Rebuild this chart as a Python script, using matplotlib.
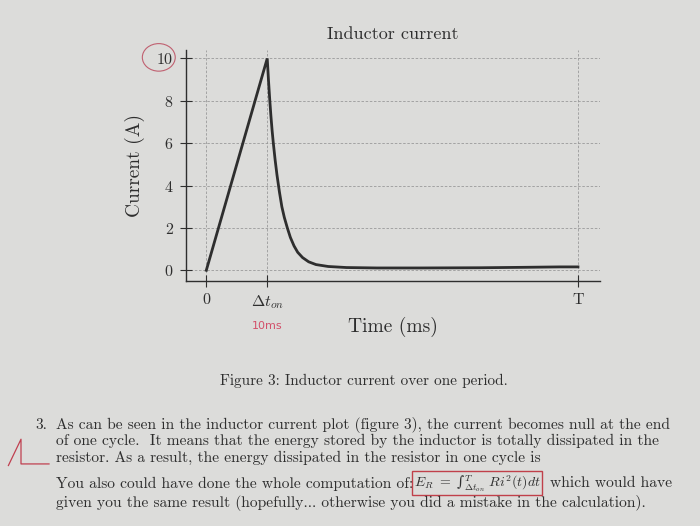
import numpy as np
import matplotlib.pyplot as plt
from matplotlib.patches import Ellipse

plt.rcParams['font.family'] = ['cmr10', 'DejaVu Serif']
plt.rcParams['mathtext.fontset'] = 'cm'
plt.rcParams['axes.formatter.use_mathtext'] = True

# inductor current (time in ms, current in A)
t_ms = [0, 10, 10.2, 10.4, 10.6, 10.8, 11.0, 11.3, 11.6, 12.0, 12.4, 12.8, 13.3,
        13.8, 14.4, 15.0, 15.8, 16.8, 18.0, 20.0, 23.0, 28.0, 35.0, 45.0, 52.0, 58.0, 61.0]
current = [0, 10, 9.0, 8.1, 7.3, 6.6, 6.0, 5.2, 4.5, 3.7, 3.0, 2.5, 2.0,
           1.55, 1.15, 0.85, 0.6, 0.4, 0.27, 0.18, 0.13, 0.11, 0.11, 0.12, 0.14, 0.16, 0.16]

t_on = 10
T = 61
xtick_pos = [0, t_on, T]
xtick_labels = ['0', r'$\Delta t_{on}$', 'T']
ytick_pos = [0, 2, 4, 6, 8, 10]

caption = 'Figure 3: Inductor current over one period.'
para = [
    'As can be seen in the inductor current plot (figure 3), the current becomes null at the end',
    'of one cycle.  It means that the energy stored by the inductor is totally dissipated in the',
    'resistor. As a result, the energy dissipated in the resistor in one cycle is',
]
last_line = 'given you the same result (hopefully... otherwise you did a mistake in the calculation).'

bg = '#dcdcda'
ink = '#2e2e2e'

fig = plt.figure(figsize=(7, 5.26), dpi=100, facecolor=bg)
ax = fig.add_axes([0.266, 0.466, 0.591, 0.439])
ax.set_facecolor(bg)

ax.plot(t_ms, current, color=ink, lw=2.0, solid_joinstyle='miter')

ax.set_xlim(-3.3, 64.6)
ax.set_ylim(-0.5, 10.4)
ax.set_xticks(xtick_pos)
ax.set_xticklabels(xtick_labels)
ax.set_yticks(ytick_pos)
ax.tick_params(direction='inout', length=8, width=0.8, colors=ink, labelsize=11.5, pad=5)
ax.grid(True, ls=(0, (3, 2)), color='#9a9a9a', lw=0.6)
for s in ['top', 'right']:
    ax.spines[s].set_visible(False)
for s in ['left', 'bottom']:
    ax.spines[s].set_color(ink)
    ax.spines[s].set_linewidth(1.0)

ax.set_title('Inductor current', fontsize=13, color=ink, pad=8)
ax.set_ylabel('Current (A)', fontsize=14, color=ink, labelpad=8)
ax.set_xlabel('Time (ms)', fontsize=14, color=ink, labelpad=4)

# handwritten marks in red
ax.text(t_on, -2.4, '10ms', color='#d2506a', fontsize=8, ha='center', va='top',
        family='DejaVu Sans', clip_on=False)
ax.add_patch(Ellipse((-7.8, 10.05), 5.4, 1.3, clip_on=False,
                     fill=False, ec='#c06070', lw=0.8))

fig.text(0.52, 0.275, caption, ha='center', va='center', fontsize=11, color=ink)

x0 = 0.08
fig.text(0.05, 0.192, '3.', ha='left', va='center', fontsize=11.2, color=ink)
ys = [0.192, 0.161, 0.129]
for line, y in zip(para, ys):
    fig.text(x0, y, line, ha='left', va='center', fontsize=11.2, color=ink)

fig.text(x0, 0.081, 'You also could have done the whole computation of:', ha='left',
         va='center', fontsize=11.2, color=ink)
fig.text(0.591, 0.081, r'$E_R\ =\ $' + '\u222b' + r'${}_{\Delta t_{on}}^{T}\ Ri^2(t)dt$',
         ha='left', va='center', fontsize=10, color=ink, family='DejaVu Serif',
         bbox=dict(boxstyle='square,pad=0.12', fc='none', ec='#c0404a', lw=1.0))
fig.text(0.785, 0.081, 'which would have', ha='left', va='center', fontsize=11.2, color=ink)
fig.text(x0, 0.043, last_line, ha='left', va='center', fontsize=11.2, color=ink)

# red tick mark in the margin
fig.add_artist(plt.Line2D([0.012, 0.03, 0.03, 0.07], [0.115, 0.165, 0.118, 0.118],
                          color='#c04050', lw=0.9))

fig.savefig('out.png', dpi=100, facecolor=bg)
